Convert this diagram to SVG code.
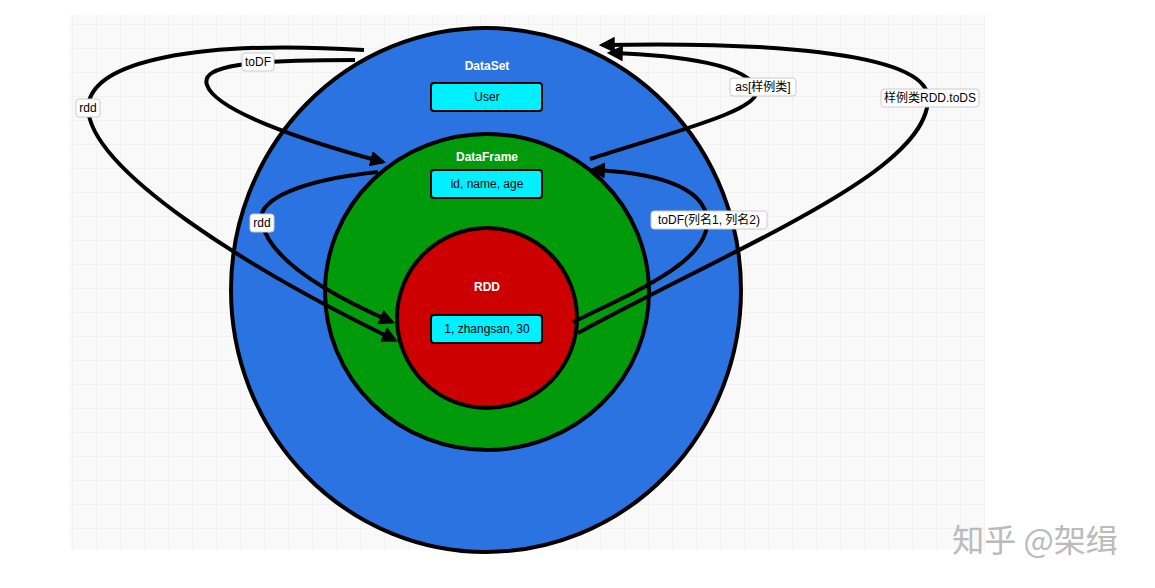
<svg xmlns="http://www.w3.org/2000/svg" width="1155" height="588" viewBox="0 0 1155 588">
<defs>
<pattern id="grid" width="24" height="24" patternUnits="userSpaceOnUse"><path d="M24 0H0V24" fill="none" stroke="#ececec" stroke-width="1"/></pattern>
<marker id="ah" viewBox="0 0 10 10" refX="8" refY="5" markerWidth="4" markerHeight="4" orient="auto"><path d="M0,0 L10,5 L0,10 Z" fill="#000"/></marker>
</defs>
<style>
.c{stroke:#000;stroke-width:4}
.t{font-family:"Liberation Sans",Arial,sans-serif;font-size:12px;font-weight:bold;fill:#fff;text-anchor:middle}
.bx{fill:#00f0ff;stroke:#000;stroke-width:2}
.bt{font-family:"Liberation Sans",Arial,sans-serif;font-size:12px;fill:#000;text-anchor:middle}
.e{fill:none;stroke:#000;stroke-width:4;marker-end:url(#ah)}
.lb{fill:#fff;stroke:#ccc;stroke-width:1}
.lt{font-family:"Liberation Sans","Noto Sans CJK SC",sans-serif;font-size:12px;fill:#000;text-anchor:middle}
</style>
<rect width="1155" height="588" fill="#fff"/>
<rect x="70" y="15" width="915" height="535" fill="#f9f9f9"/>
<rect x="70" y="15" width="915" height="535" fill="url(#grid)"/>
<g id="dataset"><ellipse cx="486" cy="290" rx="255" ry="262" fill="#2a73e0" class="c"/><text x="487" y="70" class="t">DataSet</text><rect x="431" y="83" width="111" height="28" rx="3" class="bx"/><text x="487" y="101" class="bt">User</text></g>
<g id="dataframe"><ellipse cx="487" cy="292" rx="162" ry="158" fill="#009a0a" class="c"/><text x="487" y="161" class="t">DataFrame</text><rect x="431" y="170" width="111" height="28" rx="3" class="bx"/><text x="487" y="188" class="bt">id, name, age</text></g>
<g id="rdd"><circle cx="487" cy="318" r="90" fill="#cc0000" class="c"/><text x="487" y="291" class="t">RDD</text><rect x="431" y="315" width="111" height="28" rx="3" class="bx"/><text x="487" y="333" class="bt">1, zhangsan, 30</text></g>
<g id="connectors">
<path class="e" d="M364,50 C200,40 90,60 88,108 C90,170 250,270 395,340"/>
<path class="e" d="M355,60 C250,60 200,65 207,85 C215,110 300,140 383,162"/>
<path class="e" d="M378,172 C300,180 255,200 262,223 C270,260 330,295 392,322"/>
<path class="e" d="M590,159 C680,130 760,110 757,90 C750,65 680,55 610,53"/>
<path class="e" d="M578,333 C750,240 930,170 928,97 C925,50 750,42 602,45"/>
<path class="e" d="M573,322 C640,290 710,260 707,220 C705,185 650,172 592,170"/>
<rect x="76" y="99" width="24" height="18" rx="3" class="lb"/><text x="88" y="112" class="lt">rdd</text>
<rect x="242" y="53" width="32" height="18" rx="3" class="lb"/><text x="258" y="66" class="lt">toDF</text>
<rect x="250" y="214" width="24" height="18" rx="3" class="lb"/><text x="262" y="227" class="lt">rdd</text>
<rect x="730" y="78" width="66" height="18" rx="3" class="lb"/><text x="763" y="91" class="lt">as[样例类]</text>
<rect x="881" y="89" width="98" height="18" rx="3" class="lb"/><text x="930" y="102" class="lt">样例类RDD.toDS</text>
<rect x="651" y="211" width="116" height="18" rx="3" class="lb"/><text x="709" y="224" class="lt">toDF(列名1, 列名2)</text>
</g>
<text x="1035" y="552" font-family="Noto Sans CJK SC,sans-serif" font-size="32" fill="#bbb" text-anchor="middle">知乎 @架缉</text>
</svg>
